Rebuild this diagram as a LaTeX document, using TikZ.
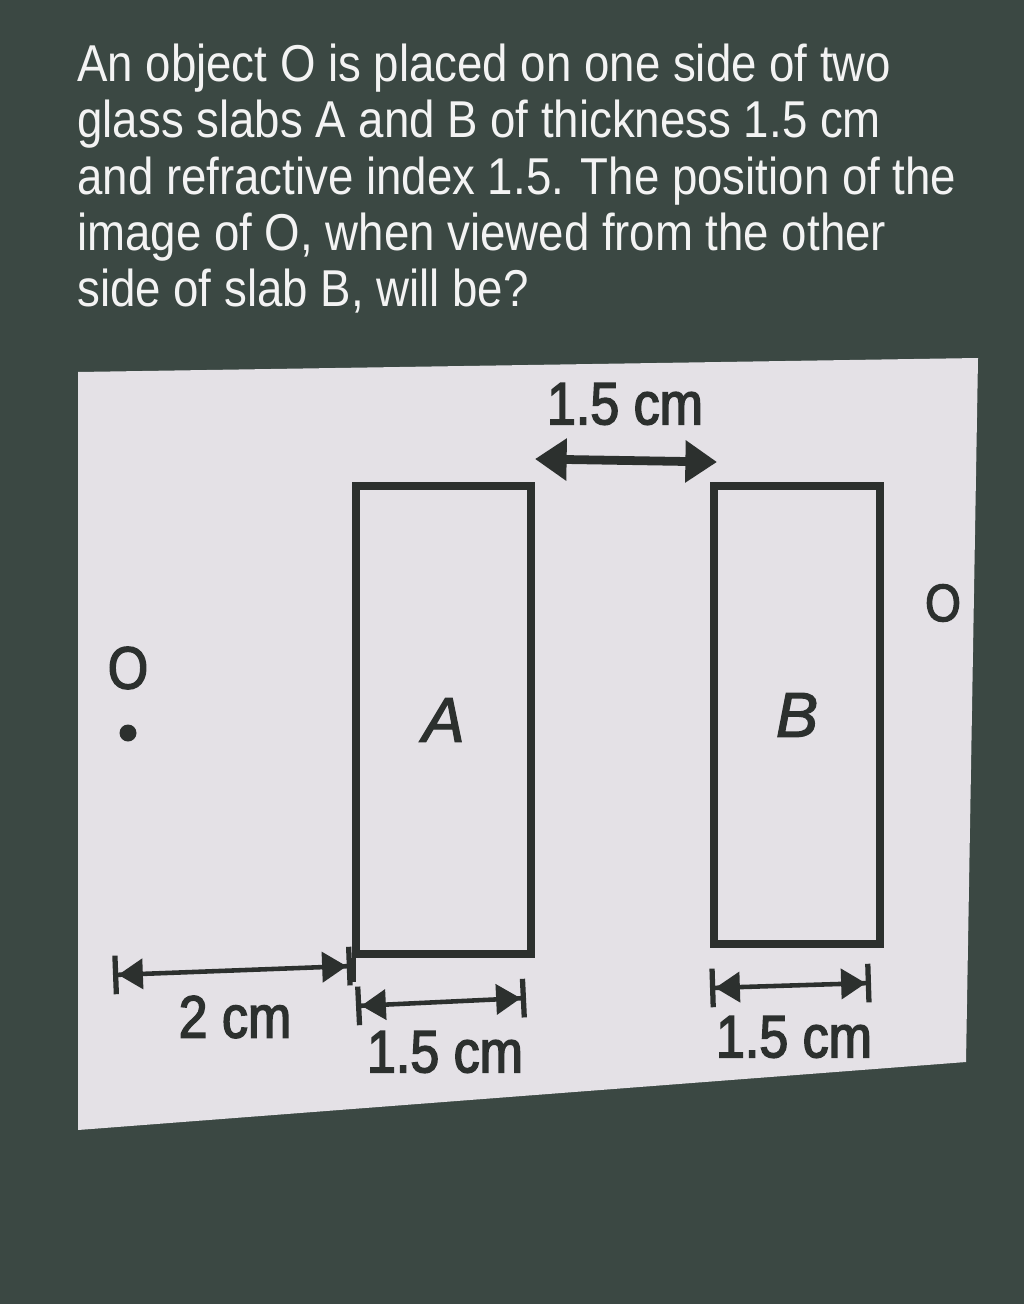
\documentclass[tikz,border=0pt]{standalone}
\usepackage{fontspec}
\setmainfont{Liberation Sans}
\newfontfamily\narrowsans[FakeStretch=0.88]{Liberation Sans}
\newfontfamily\labelsans[FakeStretch=0.87,FakeBold=2.5]{Liberation Sans}
\newfontfamily\slabsans[FakeBold=2]{Liberation Sans}
\usetikzlibrary{arrows.meta}

\definecolor{board}{HTML}{3B4843}
\definecolor{card}{HTML}{E4E1E6}
\definecolor{ink}{HTML}{2C302E}
\definecolor{chalk}{HTML}{F3F3F3}

\newcommand{\pxu}{0.02cm}

\tikzset{
    slab/.style={draw=ink, line width=4.5pt, inner sep=0, text=ink,
        font=\slabsans\fontsize{36}{36}\selectfont\itshape},
    dimline/.style={draw=ink, line width=2.6pt,
        arrows={Bar[width=22pt,line width=3pt]Triangle[length=14pt,width=17pt]-Triangle[length=14pt,width=17pt]Bar[width=22pt,line width=3pt]}},
    gapline/.style={draw=ink, line width=5pt,
        arrows={Triangle[length=18pt,width=23pt]-Triangle[length=18pt,width=23pt]}},
    dimlabel/.style={text=ink, inner sep=0, font=\labelsans\fontsize{34}{34}\selectfont}
}

\begin{document}
\begin{tikzpicture}[x=0.02cm,y=-0.02cm]
    \useasboundingbox (0,0) rectangle (1024,1304);
    \fill[board] (0,0) rectangle (1024,1304);
    \fill[card] (78,372) -- (978,358) -- (966,1062) -- (78,1130) -- cycle;

    \node[anchor=north west, inner sep=0, align=left, text=chalk,
        font=\narrowsans\fontsize{29.5}{31.9}\selectfont] (question) at (77,44)
        {An object O is placed on one side of two\\
         glass slabs A and B of thickness 1.5 cm\\
         and refractive index 1.5. The position of the\\
         image of O, when viewed from the other\\
         side of slab B, will be?};

    % slabs
    \node[slab, minimum width=175*\pxu, minimum height=468*\pxu] (slabA) at (443.5,720) {A};
    \node[slab, minimum width=166*\pxu, minimum height=458*\pxu] (slabB) at (797,715) {B};
    \draw[ink, line width=4.5pt] (slabA.south west) -- ++(0,24);

    % object
    \node[dimlabel] (objname) at (128,668) {O};
    \node[circle, fill=ink, inner sep=0, minimum size=17*\pxu] (obj) at (128,733) {};
    \node[dimlabel, font=\labelsans\fontsize{30}{30}\selectfont] (viewer) at (943,603) {O};

    % gap between slabs
    \coordinate (gapL) at (535,459);
    \coordinate (gapR) at (717,462);
    \draw[gapline] (gapL) -- (gapR);
    \node[dimlabel] (gaplbl) at (625,404) {1.5 cm};

    % distance of O from A
    \coordinate (objfoot) at (113,975);
    \coordinate (faceA) at (352,966);
    \draw[dimline] (objfoot) -- (faceA);
    \node[dimlabel] (distlbl) at (235,1017) {2 cm};

    % thickness of A
    \coordinate (aL) at (356,1006);
    \coordinate (aR) at (526,998);
    \draw[dimline] (aL) -- (aR);
    \node[dimlabel] (thickA) at (445,1052) {1.5 cm};

    % thickness of B
    \coordinate (bL) at (710,988);
    \coordinate (bR) at (871,983);
    \draw[dimline] (bL) -- (bR);
    \node[dimlabel] (thickB) at (794,1037) {1.5 cm};
\end{tikzpicture}
\end{document}
